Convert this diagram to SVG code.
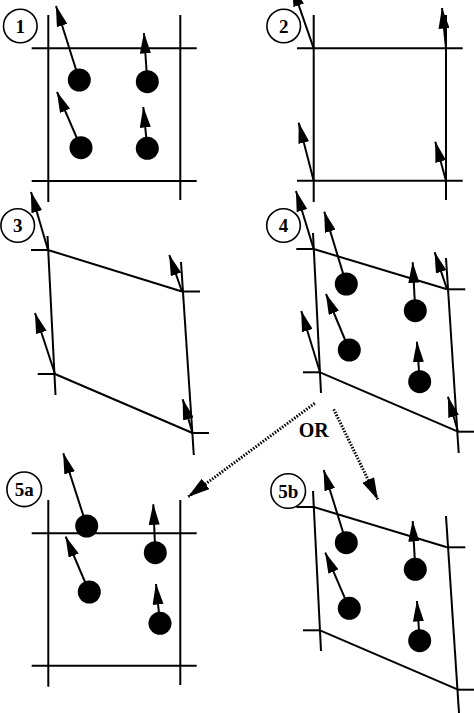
<svg xmlns="http://www.w3.org/2000/svg" width="474" height="713" viewBox="0 0 474 713">
<style>
.ln{stroke:#000;stroke-width:2;fill:none}
.ar{stroke:#000;stroke-width:2;fill:none;marker-end:url(#ah)}
.dt{stroke:#000;stroke-width:3;fill:none;stroke-dasharray:1.5 1.5;marker-end:url(#ahd)}
.dot{fill:#000}
.lc{fill:#fff;stroke:#000;stroke-width:1.6}
.lt{font-family:"Liberation Serif","Times New Roman",serif;font-weight:bold;font-size:19px;text-anchor:middle;fill:#000}
.or{font-family:"Liberation Serif","Times New Roman",serif;font-weight:bold;font-size:20px;text-anchor:middle;fill:#000}
</style>
<defs>
<marker id="ah" markerUnits="userSpaceOnUse" markerWidth="21" markerHeight="11" refX="20.5" refY="5.5" orient="auto" viewBox="0 0 21 11"><path d="M0,0 L21,5.5 L0,11 z" fill="#000"/></marker>
<marker id="ahd" markerUnits="userSpaceOnUse" markerWidth="22" markerHeight="13" refX="21.5" refY="6.5" orient="auto" viewBox="0 0 22 13"><path d="M0,0 L22,6.5 L0,13 z" fill="#000"/></marker>
</defs>
<rect width="474" height="713" fill="#fff"/>

<g id="panel1">
<line class="ln" x1="48.3" y1="15" x2="48.3" y2="202"/>
<line class="ln" x1="180.3" y1="15" x2="180.3" y2="200"/>
<line class="ln" x1="31.7" y1="48.3" x2="196.7" y2="48.3"/>
<line class="ln" x1="31.7" y1="181" x2="196.7" y2="181"/>
<line class="ar" x1="79.3" y1="80" x2="56" y2="6"/>
<line class="ar" x1="147.3" y1="81.7" x2="144" y2="33"/>
<line class="ar" x1="81" y1="147.7" x2="57" y2="92"/>
<line class="ar" x1="147.3" y1="148.3" x2="143.3" y2="107"/>
<circle class="dot" cx="79.3" cy="80" r="11.5"/>
<circle class="dot" cx="147.3" cy="81.7" r="11.5"/>
<circle class="dot" cx="81" cy="147.7" r="11.5"/>
<circle class="dot" cx="147.3" cy="148.3" r="11.5"/>
<circle class="lc" cx="20.3" cy="26" r="16.8"/>
<text class="lt" x="20.3" y="32.5">1</text>
</g>

<g id="panel2">
<line class="ln" x1="313.7" y1="15" x2="313.7" y2="202"/>
<line class="ln" x1="446" y1="15" x2="446" y2="200"/>
<line class="ln" x1="297" y1="48.3" x2="462.7" y2="48.3"/>
<line class="ln" x1="297" y1="180.7" x2="462.7" y2="180.7"/>
<line class="ar" x1="313.7" y1="48.3" x2="292" y2="-14"/>
<line class="ar" x1="446" y1="48.3" x2="442" y2="8"/>
<line class="ar" x1="313.7" y1="180.7" x2="298.7" y2="122.7"/>
<line class="ar" x1="446" y1="180.7" x2="435.3" y2="141.7"/>
<circle class="lc" cx="283.7" cy="26" r="16.8"/>
<text class="lt" x="283.7" y="32.5">2</text>
</g>

<g id="panel3">
<line class="ln" x1="47.5" y1="236" x2="55.5" y2="395"/>
<line class="ln" x1="181" y1="262" x2="193.8" y2="455"/>
<line class="ln" x1="48" y1="250" x2="182" y2="291.5"/>
<line class="ln" x1="55" y1="374" x2="192.5" y2="433"/>
<line class="ln" x1="31" y1="250" x2="48" y2="250"/>
<line class="ln" x1="182" y1="291.5" x2="200" y2="291.5"/>
<line class="ln" x1="37.7" y1="374" x2="55" y2="374"/>
<line class="ln" x1="192.5" y1="433" x2="209" y2="433"/>
<line class="ar" x1="48" y1="250" x2="31" y2="192"/>
<line class="ar" x1="55" y1="374" x2="35" y2="313"/>
<line class="ar" x1="182" y1="291.5" x2="169.3" y2="255"/>
<line class="ar" x1="192.5" y1="433" x2="182.7" y2="399.3"/>
<circle class="lc" cx="17.7" cy="225.5" r="16.8"/>
<text class="lt" x="17.7" y="232">3</text>
</g>

<g id="panel4">
<line class="ln" x1="313" y1="233" x2="321" y2="393"/>
<line class="ln" x1="446" y1="258" x2="458.7" y2="453"/>
<line class="ln" x1="313.7" y1="249" x2="447" y2="289.3"/>
<line class="ln" x1="320" y1="372.3" x2="458" y2="431.7"/>
<line class="ln" x1="296.3" y1="249" x2="313.7" y2="249"/>
<line class="ln" x1="447" y1="289.3" x2="465.3" y2="289.3"/>
<line class="ln" x1="303" y1="372.3" x2="320" y2="372.3"/>
<line class="ln" x1="458" y1="431.7" x2="474" y2="431.7"/>
<line class="ar" x1="313.7" y1="249" x2="296" y2="191"/>
<line class="ar" x1="320" y1="372.3" x2="301.3" y2="311"/>
<line class="ar" x1="447" y1="289.3" x2="434.7" y2="252.3"/>
<line class="ar" x1="458" y1="431.7" x2="448" y2="396.7"/>
<line class="ar" x1="346.3" y1="284" x2="324.3" y2="211.7"/>
<line class="ar" x1="415.3" y1="310.7" x2="412.7" y2="262.3"/>
<line class="ar" x1="349.3" y1="350" x2="326" y2="294"/>
<line class="ar" x1="419.7" y1="381.7" x2="417" y2="341.7"/>
<circle class="dot" cx="346.3" cy="284" r="11.5"/>
<circle class="dot" cx="415.3" cy="310.7" r="11.5"/>
<circle class="dot" cx="349.3" cy="350" r="11.5"/>
<circle class="dot" cx="419.7" cy="381.7" r="11.5"/>
<circle class="lc" cx="283.5" cy="225.5" r="16.8"/>
<text class="lt" x="283.5" y="232">4</text>
</g>

<g id="panel5a">
<line class="ln" x1="48.3" y1="500" x2="48.3" y2="686.7"/>
<line class="ln" x1="180.3" y1="500" x2="180.3" y2="685"/>
<line class="ln" x1="31.7" y1="533.3" x2="196.7" y2="533.3"/>
<line class="ln" x1="31.7" y1="665.7" x2="196.7" y2="665.7"/>
<line class="ar" x1="86.7" y1="526" x2="63.3" y2="453.3"/>
<line class="ar" x1="155.3" y1="552.7" x2="153.3" y2="504.3"/>
<line class="ar" x1="89.3" y1="592" x2="65.7" y2="536.7"/>
<line class="ar" x1="160" y1="623.3" x2="156" y2="584"/>
<circle class="dot" cx="86.7" cy="526" r="11.5"/>
<circle class="dot" cx="155.3" cy="552.7" r="11.5"/>
<circle class="dot" cx="89.3" cy="592" r="11.5"/>
<circle class="dot" cx="160" cy="623.3" r="11.5"/>
<circle class="lc" cx="24.2" cy="489.3" r="17.3"/>
<text class="lt" x="24.2" y="495.8">5a</text>
</g>

<g id="panel5b">
<line class="ln" x1="313" y1="491" x2="321" y2="651"/>
<line class="ln" x1="446" y1="516" x2="459" y2="713"/>
<line class="ln" x1="313.7" y1="507" x2="447" y2="547.3"/>
<line class="ln" x1="320" y1="630.3" x2="458" y2="689.7"/>
<line class="ln" x1="296.3" y1="507" x2="313.7" y2="507"/>
<line class="ln" x1="447" y1="547.3" x2="465.3" y2="547.3"/>
<line class="ln" x1="303" y1="630.3" x2="320" y2="630.3"/>
<line class="ln" x1="458" y1="689.7" x2="474" y2="689.7"/>
<line class="ar" x1="346.3" y1="542.7" x2="323.7" y2="470"/>
<line class="ar" x1="415.3" y1="569.3" x2="412.7" y2="521"/>
<line class="ar" x1="349.3" y1="608.3" x2="325.3" y2="552.7"/>
<line class="ar" x1="419.7" y1="640.7" x2="417" y2="601"/>
<circle class="dot" cx="346.3" cy="542.7" r="11.5"/>
<circle class="dot" cx="415.3" cy="569.3" r="11.5"/>
<circle class="dot" cx="349.3" cy="608.3" r="11.5"/>
<circle class="dot" cx="419.7" cy="640.7" r="11.5"/>
<circle class="lc" cx="288.2" cy="491" r="17.3"/>
<text class="lt" x="288.2" y="497.5">5b</text>
</g>

<g id="connectors">
<line class="dt" x1="314.7" y1="403.3" x2="188.3" y2="496.7"/>
<line class="dt" x1="333.7" y1="409.3" x2="377.7" y2="499.3"/>
<text class="or" x="313.7" y="437">OR</text>
</g>
</svg>
